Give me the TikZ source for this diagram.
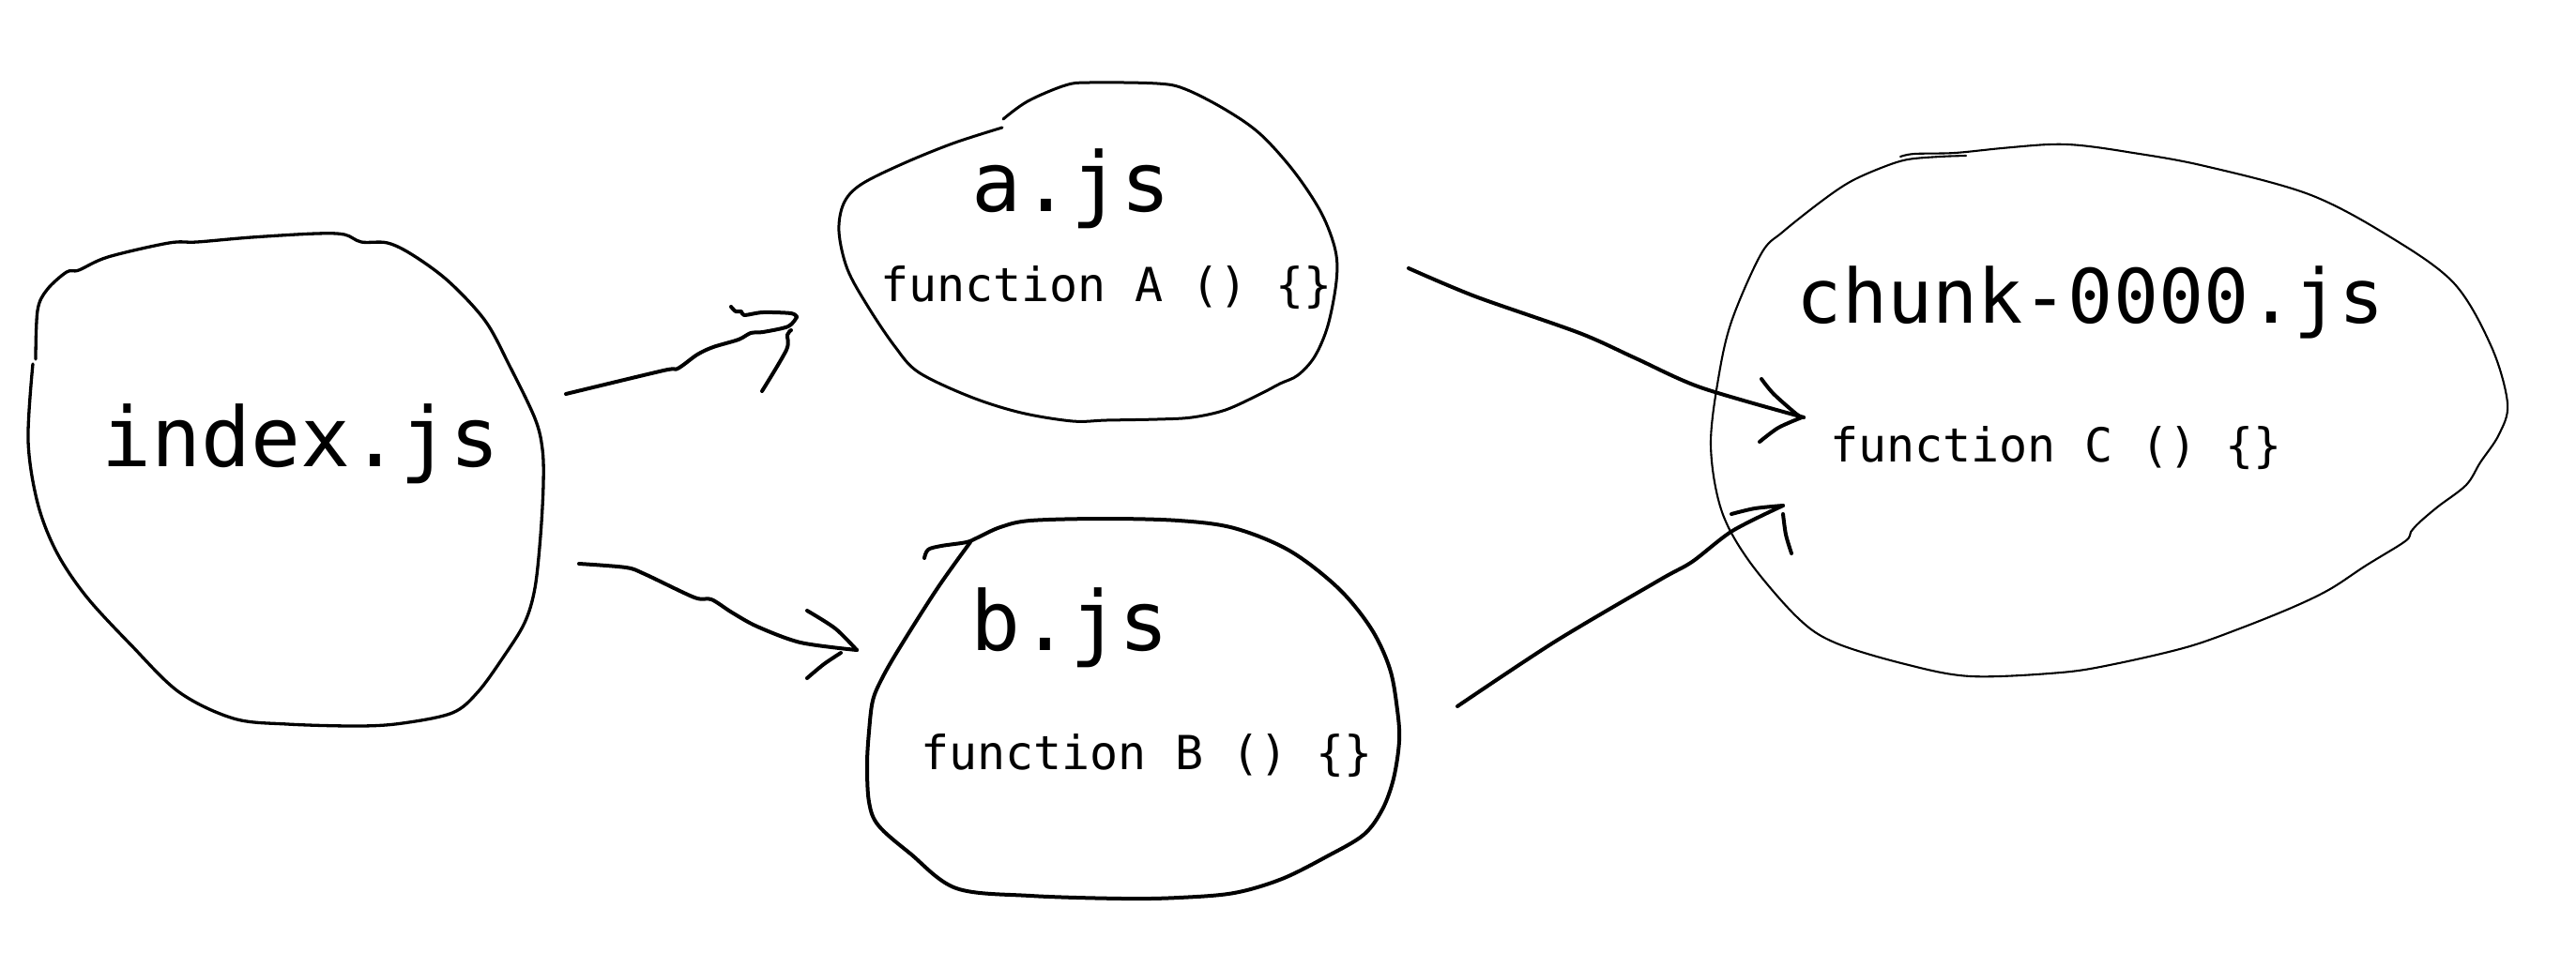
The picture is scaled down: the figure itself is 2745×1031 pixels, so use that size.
\documentclass[tikz,border=0pt]{standalone}
\usepackage{fontspec}
\newfontfamily\codefont{DejaVu Sans Mono}
\begin{document}
\begin{tikzpicture}[x=1pt,y=-1pt,
  lbl/.style={anchor=base, inner sep=0pt, outer sep=0pt},
  bigtxt/.style={lbl, font=\codefont\fontsize{88}{100}\selectfont},
  midtxt/.style={lbl, font=\codefont\fontsize{80}{90}\selectfont},
  smalltxt/.style={lbl, font=\codefont\fontsize{50}{60}\selectfont},
  blobline/.style={line cap=round, line join=round},
  arr/.style={line width=4pt, line cap=round, line join=round}]
\useasboundingbox[fill=white] (0,0) rectangle (2745,1031);

% ---------- texts ----------
\node[bigtxt] (index) at (320.5,497) {index.js};
\node[bigtxt] (a) at (1141.5,225) {a.js};
\node[smalltxt] (fa) at (1179,321) {function A () \{\}};
\node[bigtxt] (b) at (1140,693) {b.js};
\node[smalltxt] (fb) at (1222,820) {function B () \{\}};
\node[midtxt] (chunk) at (2228,344) {chunk-0000.js};
\node[smalltxt] (fc) at (2191,492) {function C () \{\}};

% ---------- index.js blob ----------
\draw[blobline, line width=3.3pt] plot[smooth, tension=0.55] coordinates {
 (38,383) (40,331) (50,309) (71,290) (84,288) (115,274) (180,259) (210,258)
 (268,253) (337,249) (367,250) (385,258) (413,259) (440,272) (478,300)
 (517,342) (543,390) (570,446) (578,479) (579,516) (576,571) (570,627)
 (559,664) (536,701) (509,738) (482,760) (429,771) (383,774) (306,772)
 (249,766) (191,738) (140,688) (92,636) (60,588) (40,536)
 (30,470) (35,388)};

% ---------- a.js blob ----------
\draw[blobline, line width=3pt] plot[smooth, tension=0.55] coordinates {
 (1069,127) (1095,108) (1135,91) (1161,88) (1233,89) (1263,95) (1306,117)
 (1343,143) (1379,183) (1408,227) (1423,267) (1424,300) (1415,347)
 (1401,380) (1383,400) (1364,409) (1343,420) (1306,437) (1270,445)
 (1233,447) (1179,448) (1143,449) (1088,440) (1034,423) (979,397)
 (954,370) (925,327) (903,287) (894,247) (899,217) (917,197) (961,175)
 (1015,153) (1068,136)};

% ---------- b.js blob ----------
\draw[blobline, line width=4pt] plot[smooth, tension=0.55] coordinates {
 (985,595) (989,586) (1003,582) (1030,578) (1042,573) (1066,562) (1098,555)
 (1177,553) (1256,555) (1315,563) (1374,587) (1426,627) (1461,670)
 (1481,713) (1489,757) (1491,790) (1485,830) (1473,863) (1453,890)
 (1414,913) (1366,937) (1315,952) (1256,957) (1196,958) (1098,955)
 (1019,947) (970,910) (936,880) (926,855) (924,815) (926,780) (930,747)
 (940,723) (959,690) (999,627) (1034,578)};

% ---------- chunk blob ----------
\draw[blobline, line width=2.1pt] plot[smooth, tension=0.55] coordinates {
 (2025,167) (2040,164) (2083,163) (2133,158) (2183,154) (2217,155) (2267,162)
 (2345,176) (2460,207) (2546,252) (2615,302) (2655,370) (2672,430)
 (2663,463) (2643,493) (2628,517) (2598,540) (2578,557) (2569,567)
 (2563,577) (2521,603) (2483,628) (2444,647) (2387,670) (2330,690)
 (2253,708) (2196,717) (2100,721) (2030,708) (1955,685) (1915,658)
 (1863,597) (1834,543) (1823,474) (1832,398) (1846,340) (1877,270)
 (1900,247) (1943,213) (1973,193) (2007,178) (2033,170) (2067,167)
 (2095,166)};

% ---------- connector end points ----------
\coordinate (ia-s) at (603,420);  \coordinate (ia-t) at (849,338);
\coordinate (ib-s) at (617,601);  \coordinate (ib-t) at (913,693);
\coordinate (ac-s) at (1501,286); \coordinate (ac-t) at (1922,445);
\coordinate (bc-s) at (1553,753); \coordinate (bc-t) at (1900,539);

% index.js -> a.js
\draw[arr] plot[smooth, tension=0.5] coordinates {(ia-s) (707,395) (722,393)
 (743,378) (760,370) (787,362) (800,355) (813,354) (840,348) (ia-t)};
\draw[arr] plot[smooth, tension=0.5] coordinates {(ia-t) (843,334) (813,333)
 (793,336) (790,332) (784,332) (779,327)};
\draw[arr] plot[smooth, tension=0.5] coordinates {(843,352) (839,357)
 (838,373) (812,417)};

% index.js -> b.js
\draw[arr] plot[smooth, tension=0.5] coordinates {(ib-s) (667,605) (687,612)
 (740,637) (758,639) (780,653) (807,668) (853,685) (ib-t)};
\draw[arr] plot[smooth, tension=0.5] coordinates {(ib-t) (890,670) (860,651)};
\draw[arr] plot[smooth, tension=0.5] coordinates {(896,696) (878,708) (860,723)};

% a.js -> chunk
\draw[arr] plot[smooth, tension=0.5] coordinates {(ac-s) (1572,316) (1683,355)
 (1743,382) (1812,413) (ac-t)};
\draw[arr] plot[smooth, tension=0.5] coordinates {(ac-t) (1915,442) (1890,420)
 (1877,404)};
\draw[arr] plot[smooth, tension=0.5] coordinates {(1920,445) (1895,456) (1875,471)};

% b.js -> chunk
\draw[arr] plot[smooth, tension=0.5] coordinates {(bc-s) (1657,684) (1769,618)
 (1803,599) (1846,566) (bc-t)};
\draw[arr] plot[smooth, tension=0.5] coordinates {(1845,548) (1870,542) (bc-t)};
\draw[arr] plot[smooth, tension=0.5] coordinates {(1900,548) (1903,570) (1909,590)};
\end{tikzpicture}
\end{document}
